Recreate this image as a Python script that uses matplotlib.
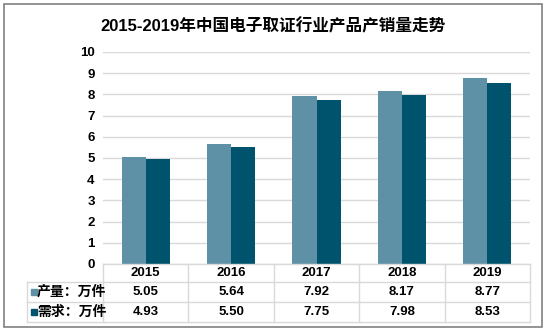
import numpy as np
import matplotlib
matplotlib.use('Agg')
import matplotlib.pyplot as plt
from matplotlib.patches import Rectangle

plt.rcParams['font.family'] = ['Liberation Sans', 'Noto Sans CJK SC']

years = ['2015', '2016', '2017', '2018', '2019']
production = [5.05, 5.64, 7.92, 8.17, 8.77]
demand = [4.93, 5.50, 7.75, 7.98, 8.53]
prod_label = '产量：万件'
demand_label = '需求：万件'
prod_text = ['5.05', '5.64', '7.92', '8.17', '8.77']
demand_text = ['4.93', '5.50', '7.75', '7.98', '8.53']

c_light = '#5E91A6'
c_dark = '#00536D'
grid_c = '#D9D9D9'

W, H = 548, 332
fig = plt.figure(figsize=(W / 100, H / 100), dpi=100)

def fx(px):
    return px / W

def fy(py):
    return 1 - py / H

# outer border
fig.patches.append(Rectangle((fx(4), fy(327)), 538 / W, 323 / H,
                             transform=fig.transFigure, fill=False,
                             edgecolor='#808080', lw=1.2))

x0, x1, ytop, ybot = 103, 530, 52, 264
ax = fig.add_axes([x0 / W, 1 - ybot / H, (x1 - x0) / W, (ybot - ytop) / H])

x = np.arange(len(years))
bw = 0.282
ax.bar(x - bw / 2, production, bw, color=c_light, zorder=3)
ax.bar(x + bw / 2, demand, bw, color=c_dark, zorder=3)
ax.set_xlim(-0.5, len(years) - 0.5)
ax.set_ylim(0, 10)
ax.set_yticks(range(0, 11))
ax.set_yticklabels([str(i) for i in range(0, 11)], fontsize=9.5, fontweight='bold')
ax.set_xticks([])
ax.tick_params(axis='y', length=0, pad=6)
ax.grid(axis='y', color=grid_c, lw=1, zorder=0)
for s in ax.spines.values():
    s.set_visible(False)

fig.text(fx(273), fy(26), '2015-2019年中国电子取证行业产品产销量走势',
         ha='center', va='center', fontsize=12, fontweight='bold')

# data table below the axis
rows = [264, 282, 302, 322]
cols = np.linspace(x0, x1, len(years) + 1)
left = 27
lk = dict(color=grid_c, lw=1, transform=fig.transFigure)
fig.add_artist(plt.Line2D([fx(x0), fx(x1)], [fy(rows[0]), fy(rows[0])], **lk))
for r in rows[1:]:
    fig.add_artist(plt.Line2D([fx(left), fx(x1)], [fy(r), fy(r)], **lk))
for c in cols:
    fig.add_artist(plt.Line2D([fx(c), fx(c)], [fy(rows[0]), fy(rows[-1])], **lk))
fig.add_artist(plt.Line2D([fx(left), fx(left)], [fy(rows[1]), fy(rows[-1])], **lk))

cy = [(rows[i] + rows[i + 1]) / 2 for i in range(3)]
for i, yr in enumerate(years):
    cx = (cols[i] + cols[i + 1]) / 2
    fig.text(fx(cx), fy(cy[0]), yr, ha='center', va='center', fontsize=9.5, fontweight='bold')
    fig.text(fx(cx), fy(cy[1]), prod_text[i], ha='center', va='center', fontsize=9.5, fontweight='bold')
    fig.text(fx(cx), fy(cy[2]), demand_text[i], ha='center', va='center', fontsize=9.5, fontweight='bold')

for ry, lab, col in [(cy[1], prod_label, c_light), (cy[2], demand_label, c_dark)]:
    fig.patches.append(Rectangle((fx(31), fy(ry + 3)), 5.5 / W, 6 / H,
                                 transform=fig.transFigure, color=col))
    fig.text(fx(37), fy(ry), lab, ha='left', va='center', fontsize=10, fontweight='bold')

fig.savefig('out.png', dpi=100)
